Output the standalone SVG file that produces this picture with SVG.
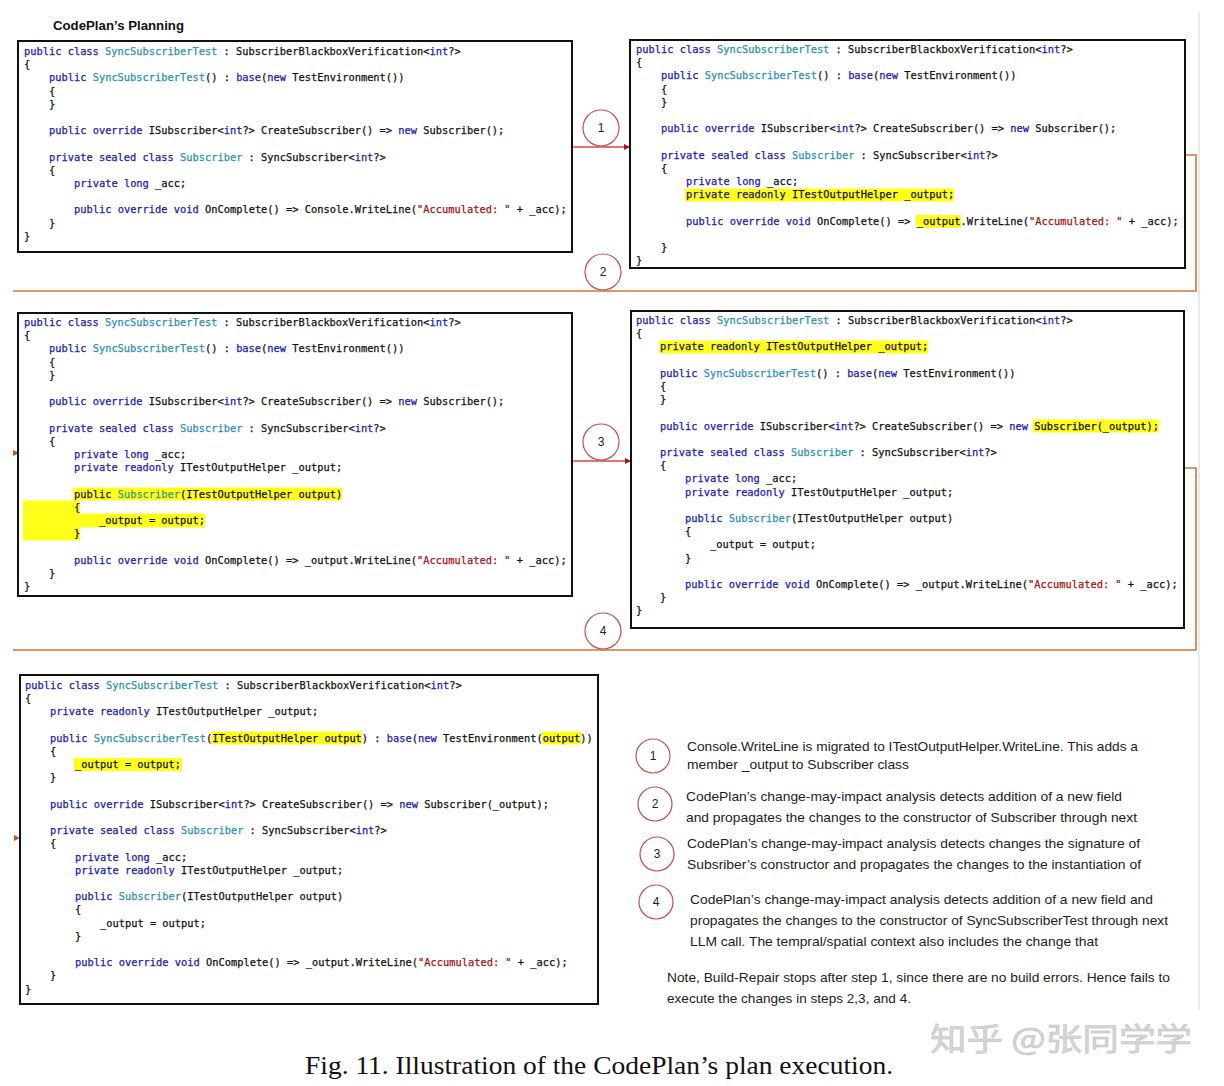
<svg xmlns="http://www.w3.org/2000/svg" width="1224" height="1086" viewBox="0 0 1224 1086">
<style>
.box{fill:#fff;stroke:#111;stroke-width:2}
.code{font-family:"DejaVu Sans Mono","Liberation Mono",monospace;font-size:10.36px;fill:#111;stroke:#111;stroke-width:0.25;white-space:pre}
.k{fill:#2020b0;stroke:#2020b0}
.t{fill:#2b91af;stroke:#2b91af}
.s{fill:#a31515;stroke:#a31515}
.d{fill:#1a1a60;stroke:#1a1a60}
.g{fill:#3a9a7a;stroke:#3a9a7a}
.hl{fill:#ffff1a}
.num{fill:#fff;stroke:#c0504d;stroke-width:1.2}
.numtxt{font-family:"Liberation Sans",Arial,sans-serif;font-size:12px;fill:#222;text-anchor:middle}
.leg{font-family:"Liberation Sans",Arial,sans-serif;font-size:13.3px;fill:#222}
.red{fill:none;stroke:#d04848;stroke-width:1.3}
.org{fill:none;stroke:#d2743c;stroke-width:1.6}
</style>
<defs>
<marker id="ah" markerWidth="6" markerHeight="6" refX="5" refY="3" orient="auto" markerUnits="userSpaceOnUse">
<path d="M0,0 L6,3 L0,6 Z" fill="#a01818"/>
</marker>
</defs>
<rect width="1224" height="1086" fill="#fff"/>
<line x1="1199" y1="12" x2="1199" y2="1010" stroke="#dcdcdc" stroke-width="1.2"/>
<text x="53" y="30" font-family="Liberation Sans,Arial,sans-serif" font-size="13" font-weight="bold" fill="#111" textLength="131" lengthAdjust="spacingAndGlyphs">CodePlan’s Planning</text>

<g id="connectors">
<line class="red" x1="572" y1="147" x2="629" y2="147" marker-end="url(#ah)"/>
<line class="red" x1="572" y1="461" x2="630" y2="461" marker-end="url(#ah)"/>
<path class="org" d="M1185,155 H1196 V291 H13"/>
<path class="org" d="M1184,468 H1196 V650 H13"/>
<path d="M13,450 L19,453 L13,456 Z" fill="#c0562a"/>
<path d="M14,835 L20,838 L14,841 Z" fill="#c0562a"/>
</g>

<g id="node-box1">
<rect class="box" x="18" y="41" width="554" height="211"/>
<text class="code" x="24" y="55"><tspan class="k">public class</tspan> <tspan class="t">SyncSubscriberTest</tspan> : SubscriberBlackboxVerification&lt;<tspan class="k">int</tspan>?&gt;</text>
<text class="code" x="24" y="68.2">{</text>
<text class="code" x="49" y="81.4"><tspan class="k">public</tspan> <tspan class="t">SyncSubscriberTest</tspan>() : <tspan class="k">base</tspan>(<tspan class="k">new</tspan> TestEnvironment())</text>
<text class="code" x="49" y="94.6">{</text>
<text class="code" x="49" y="107.8">}</text>
<text class="code" x="49" y="134.2"><tspan class="k">public override</tspan> ISubscriber&lt;<tspan class="k">int</tspan>?&gt; CreateSubscriber() =&gt; <tspan class="k">new</tspan> Subscriber();</text>
<text class="code" x="49" y="160.6"><tspan class="k">private sealed class</tspan> <tspan class="t">Subscriber</tspan> : SyncSubscriber&lt;<tspan class="k">int</tspan>?&gt;</text>
<text class="code" x="49" y="173.8">{</text>
<text class="code" x="74" y="187"><tspan class="k">private long</tspan> _acc;</text>
<text class="code" x="74" y="213.4"><tspan class="k">public override void</tspan> OnComplete() =&gt; Console.WriteLine(<tspan class="s">"Accumulated: "</tspan> + _acc);</text>
<text class="code" x="49" y="226.6">}</text>
<text class="code" x="24" y="239.8">}</text>
</g>

<g id="node-box2">
<rect class="box" x="630" y="40" width="555" height="228"/>
<rect class="hl" x="685" y="188.5" width="269" height="13"/>
<rect class="hl" x="916" y="215" width="45" height="13"/>
<text class="code" x="636" y="53"><tspan class="k">public class</tspan> <tspan class="t">SyncSubscriberTest</tspan> : SubscriberBlackboxVerification&lt;<tspan class="k">int</tspan>?&gt;</text>
<text class="code" x="636" y="66.2">{</text>
<text class="code" x="661" y="79.4"><tspan class="k">public</tspan> <tspan class="t">SyncSubscriberTest</tspan>() : <tspan class="k">base</tspan>(<tspan class="k">new</tspan> TestEnvironment())</text>
<text class="code" x="661" y="92.6">{</text>
<text class="code" x="661" y="105.8">}</text>
<text class="code" x="661" y="132.2"><tspan class="k">public override</tspan> ISubscriber&lt;<tspan class="k">int</tspan>?&gt; CreateSubscriber() =&gt; <tspan class="k">new</tspan> Subscriber();</text>
<text class="code" x="661" y="158.6"><tspan class="k">private sealed class</tspan> <tspan class="t">Subscriber</tspan> : SyncSubscriber&lt;<tspan class="k">int</tspan>?&gt;</text>
<text class="code" x="661" y="171.8">{</text>
<text class="code" x="686" y="185"><tspan class="k">private long</tspan> _acc;</text>
<text class="code" x="686" y="198.2"><tspan class="d">private readonly</tspan> ITestOutputHelper _output;</text>
<text class="code" x="686" y="224.6"><tspan class="k">public override void</tspan> OnComplete() =&gt; _output.WriteLine(<tspan class="s">"Accumulated: "</tspan> + _acc);</text>
<text class="code" x="661" y="251">}</text>
<text class="code" x="636" y="264.2">}</text>
</g>

<g id="node-box3">
<rect class="box" x="18" y="313" width="554" height="283"/>
<rect class="hl" x="73" y="487.5" width="269" height="13"/>
<rect class="hl" x="23" y="500.5" width="57" height="40"/>
<rect class="hl" x="80" y="513.5" width="125" height="14"/>
<text class="code" x="24" y="326"><tspan class="k">public class</tspan> <tspan class="t">SyncSubscriberTest</tspan> : SubscriberBlackboxVerification&lt;<tspan class="k">int</tspan>?&gt;</text>
<text class="code" x="24" y="339.2">{</text>
<text class="code" x="49" y="352.4"><tspan class="k">public</tspan> <tspan class="t">SyncSubscriberTest</tspan>() : <tspan class="k">base</tspan>(<tspan class="k">new</tspan> TestEnvironment())</text>
<text class="code" x="49" y="365.6">{</text>
<text class="code" x="49" y="378.8">}</text>
<text class="code" x="49" y="405.2"><tspan class="k">public override</tspan> ISubscriber&lt;<tspan class="k">int</tspan>?&gt; CreateSubscriber() =&gt; <tspan class="k">new</tspan> Subscriber();</text>
<text class="code" x="49" y="431.6"><tspan class="k">private sealed class</tspan> <tspan class="t">Subscriber</tspan> : SyncSubscriber&lt;<tspan class="k">int</tspan>?&gt;</text>
<text class="code" x="49" y="444.8">{</text>
<text class="code" x="74" y="458"><tspan class="k">private long</tspan> _acc;</text>
<text class="code" x="74" y="471.2"><tspan class="k">private readonly</tspan> ITestOutputHelper _output;</text>
<text class="code" x="74" y="497.6"><tspan class="d">public</tspan> <tspan class="g">Subscriber</tspan>(ITestOutputHelper output)</text>
<text class="code" x="74" y="510.8">{</text>
<text class="code" x="99" y="524">_output = output;</text>
<text class="code" x="74" y="537.2">}</text>
<text class="code" x="74" y="563.6"><tspan class="k">public override void</tspan> OnComplete() =&gt; _output.WriteLine(<tspan class="s">"Accumulated: "</tspan> + _acc);</text>
<text class="code" x="49" y="576.8">}</text>
<text class="code" x="24" y="590">}</text>
</g>

<g id="node-box4">
<rect class="box" x="631" y="311" width="553" height="317"/>
<rect class="hl" x="659" y="340.5" width="269" height="13"/>
<rect class="hl" x="1033" y="419.5" width="126" height="13"/>
<text class="code" x="636" y="324"><tspan class="k">public class</tspan> <tspan class="t">SyncSubscriberTest</tspan> : SubscriberBlackboxVerification&lt;<tspan class="k">int</tspan>?&gt;</text>
<text class="code" x="636" y="337.2">{</text>
<text class="code" x="660" y="350.4"><tspan class="d">private readonly</tspan> ITestOutputHelper _output;</text>
<text class="code" x="660" y="376.8"><tspan class="k">public</tspan> <tspan class="t">SyncSubscriberTest</tspan>() : <tspan class="k">base</tspan>(<tspan class="k">new</tspan> TestEnvironment())</text>
<text class="code" x="660" y="390">{</text>
<text class="code" x="660" y="403.2">}</text>
<text class="code" x="660" y="429.6"><tspan class="k">public override</tspan> ISubscriber&lt;<tspan class="k">int</tspan>?&gt; CreateSubscriber() =&gt; <tspan class="k">new</tspan> Subscriber(_output);</text>
<text class="code" x="660" y="456"><tspan class="k">private sealed class</tspan> <tspan class="t">Subscriber</tspan> : SyncSubscriber&lt;<tspan class="k">int</tspan>?&gt;</text>
<text class="code" x="660" y="469.2">{</text>
<text class="code" x="685" y="482.4"><tspan class="k">private long</tspan> _acc;</text>
<text class="code" x="685" y="495.6"><tspan class="k">private readonly</tspan> ITestOutputHelper _output;</text>
<text class="code" x="685" y="522"><tspan class="k">public</tspan> <tspan class="t">Subscriber</tspan>(ITestOutputHelper output)</text>
<text class="code" x="685" y="535.2">{</text>
<text class="code" x="710" y="548.4">_output = output;</text>
<text class="code" x="685" y="561.6">}</text>
<text class="code" x="685" y="588"><tspan class="k">public override void</tspan> OnComplete() =&gt; _output.WriteLine(<tspan class="s">"Accumulated: "</tspan> + _acc);</text>
<text class="code" x="660" y="601.2">}</text>
<text class="code" x="636" y="614.4">}</text>
</g>

<g id="node-box5">
<rect class="box" x="20" y="675" width="578" height="329"/>
<rect class="hl" x="211" y="731.5" width="151" height="13"/>
<rect class="hl" x="542" y="731.5" width="39" height="13"/>
<rect class="hl" x="74" y="758" width="108" height="13"/>
<text class="code" x="25" y="689"><tspan class="k">public class</tspan> <tspan class="t">SyncSubscriberTest</tspan> : SubscriberBlackboxVerification&lt;<tspan class="k">int</tspan>?&gt;</text>
<text class="code" x="25" y="702.2">{</text>
<text class="code" x="50" y="715.4"><tspan class="k">private readonly</tspan> ITestOutputHelper _output;</text>
<text class="code" x="50" y="741.8"><tspan class="k">public</tspan> <tspan class="t">SyncSubscriberTest</tspan>(ITestOutputHelper output) : <tspan class="k">base</tspan>(<tspan class="k">new</tspan> TestEnvironment(output))</text>
<text class="code" x="50" y="755">{</text>
<text class="code" x="75" y="768.2">_output = output;</text>
<text class="code" x="50" y="781.4">}</text>
<text class="code" x="50" y="807.8"><tspan class="k">public override</tspan> ISubscriber&lt;<tspan class="k">int</tspan>?&gt; CreateSubscriber() =&gt; <tspan class="k">new</tspan> Subscriber(_output);</text>
<text class="code" x="50" y="834.2"><tspan class="k">private sealed class</tspan> <tspan class="t">Subscriber</tspan> : SyncSubscriber&lt;<tspan class="k">int</tspan>?&gt;</text>
<text class="code" x="50" y="847.4">{</text>
<text class="code" x="75" y="860.6"><tspan class="k">private long</tspan> _acc;</text>
<text class="code" x="75" y="873.8"><tspan class="k">private readonly</tspan> ITestOutputHelper _output;</text>
<text class="code" x="75" y="900.2"><tspan class="k">public</tspan> <tspan class="t">Subscriber</tspan>(ITestOutputHelper output)</text>
<text class="code" x="75" y="913.4">{</text>
<text class="code" x="100" y="926.6">_output = output;</text>
<text class="code" x="75" y="939.8">}</text>
<text class="code" x="75" y="966.2"><tspan class="k">public override void</tspan> OnComplete() =&gt; _output.WriteLine(<tspan class="s">"Accumulated: "</tspan> + _acc);</text>
<text class="code" x="50" y="979.4">}</text>
<text class="code" x="25" y="992.6">}</text>
</g>

<g id="node-step1"><circle class="num" cx="601" cy="128" r="18"/><text class="numtxt" x="601" y="132">1</text></g>
<g id="node-step2"><circle class="num" cx="603" cy="272" r="18"/><text class="numtxt" x="603" y="276">2</text></g>
<g id="node-step3"><circle class="num" cx="601" cy="442" r="18"/><text class="numtxt" x="601" y="446">3</text></g>
<g id="node-step4"><circle class="num" cx="603" cy="631" r="18"/><text class="numtxt" x="603" y="635">4</text></g>

<g id="legend-1">
<circle class="num" cx="653" cy="756" r="17"/><text class="numtxt" x="653" y="760">1</text>
<text class="leg" x="687" y="750.5" textLength="451" lengthAdjust="spacingAndGlyphs">Console.WriteLine is migrated  to ITestOutputHelper.WriteLine.  This adds a</text>
<text class="leg" x="687" y="768.5" textLength="222" lengthAdjust="spacingAndGlyphs">member  _output to Subscriber  class</text>
</g>
<g id="legend-2">
<circle class="num" cx="655" cy="804" r="17"/><text class="numtxt" x="655" y="808">2</text>
<text class="leg" x="686" y="800.5" textLength="436" lengthAdjust="spacingAndGlyphs">CodePlan’s change-may-impact  analysis detects addition of a new field</text>
<text class="leg" x="686" y="821.5" textLength="451" lengthAdjust="spacingAndGlyphs">and propagates the changes to the constructor  of Subscriber  through next</text>
</g>
<g id="legend-3">
<circle class="num" cx="657" cy="854" r="17"/><text class="numtxt" x="657" y="858">3</text>
<text class="leg" x="687" y="847.5" textLength="453" lengthAdjust="spacingAndGlyphs">CodePlan’s change-may-impact  analysis detects changes the signature of</text>
<text class="leg" x="687" y="868.5" textLength="454" lengthAdjust="spacingAndGlyphs">Subsriber’s  constructor and propagates the changes to the instantiation of</text>
</g>
<g id="legend-4">
<circle class="num" cx="656" cy="902" r="17"/><text class="numtxt" x="656" y="906">4</text>
<text class="leg" x="690" y="903.5" textLength="463" lengthAdjust="spacingAndGlyphs">CodePlan’s change-may-impact  analysis detects addition of a new field and</text>
<text class="leg" x="690" y="924.5" textLength="478" lengthAdjust="spacingAndGlyphs">propagates the changes to the constructor of SyncSubscriberTest  through next</text>
<text class="leg" x="690" y="945.5" textLength="408" lengthAdjust="spacingAndGlyphs">LLM call. The tempral/spatial  context also includes the change that</text>
</g>
<g id="note">
<text class="leg" x="667" y="981.5" textLength="503" lengthAdjust="spacingAndGlyphs">Note, Build-Repair  stops after step 1, since there are no build errors. Hence fails to</text>
<text class="leg" x="667" y="1002.5" textLength="244" lengthAdjust="spacingAndGlyphs">execute the changes in steps 2,3, and 4.</text>
</g>

<text x="930" y="1050" font-family="Noto Sans CJK SC,sans-serif" font-size="31" fill="#d6d6d6" stroke="#bdbdbd" stroke-width="0.5" textLength="262" lengthAdjust="spacingAndGlyphs">知乎 @张同学学</text>
<text x="305" y="1074" font-family="Liberation Serif,Times New Roman,serif" font-size="25" fill="#111" textLength="588" lengthAdjust="spacingAndGlyphs">Fig. 11.  Illustration of the CodePlan’s plan execution.</text>
</svg>
